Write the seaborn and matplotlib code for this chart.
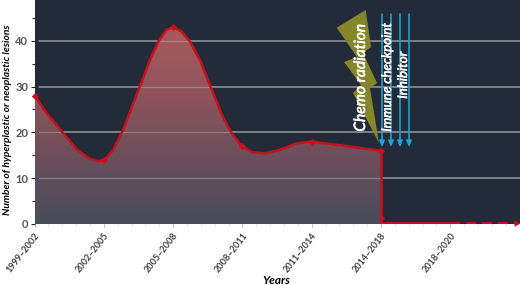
import numpy as np
import pandas as pd
import matplotlib
matplotlib.use("Agg")
import matplotlib.pyplot as plt
import matplotlib.patheffects as pe
from matplotlib.patches import Polygon
from matplotlib.colors import LinearSegmentedColormap
import seaborn as sns

period_labels = ["1999–2002", "2002–2005", "2005–2008", "2008–2011",
                 "2011–2014", "2014–2018", "2018–2020", ""]
curve_pos = [0, .176, .416, .609, .776, .92, 1.017, 1.137, 1.281, 1.403, 1.522, 1.667, 1.786, 1.908,
             2.003, 2.124, 2.244, 2.388, 2.532, 2.724, 2.846, 2.99, 3.134, 3.326, 3.542, 3.783, 4.0,
             4.31, 4.65, 5]
curve_val = [28, 24.2, 19.8, 16.3, 14.4, 13.7, 14, 16.2, 20.6, 25.4, 30.1, 35.8, 39.8, 42.4,
             43, 42, 39.8, 35.8, 30.3, 23.2, 19.8, 17, 15.7, 15.4, 16.2, 17.6, 18,
             17.4, 16.7, 16]
marker_pos = [0, 1, 2, 3, 4, 5]
marker_val = [28, 14, 43, 17, 18, 16]
drop_pos = [5, 5]
drop_val = [16, 0.3]
drop_marker_val = [1.4]
zero_pos = [5, 6]
zero_val = [0.3, 0.3]
future_pos = [6, 6.97]
future_val = [0.3, 0.3]

W, H = 520, 285
sns.set_theme(style="white")
plt.rcParams["font.family"] = ["Lato", "DejaVu Sans"]
fig = plt.figure(figsize=(W / 100, H / 100), dpi=100, facecolor="white")
ax = fig.add_axes([34.5 / W, 1 - 224 / H, (519.5 - 34.5) / W, 224 / H])
BG = "#232a38"
RED = "#c8101c"
ax.set_facecolor(BG)

for v in (10, 20, 30, 40):
    ax.plot([0.06, 7], [v, v], color="#96989f", lw=1.1, zorder=1)

# gradient fill under the curve
cmap = LinearSegmentedColormap.from_list("g", ["#474c5c", "#6b4f5a", "#8f545c", "#a85a5e"])
grad = np.linspace(1, 0, 256).reshape(-1, 1)
im = ax.imshow(grad, extent=[0, 5, 0, 43], aspect="auto", cmap=cmap, zorder=2)
ax.set_xlim(0, 7)
ax.set_ylim(0, 48.9)

frame = pd.DataFrame({"pos": curve_pos, "val": curve_val})
xs, ys = np.array(curve_pos, float), np.array(curve_val, float)
verts = [(0, 0)] + list(zip(xs, ys)) + [(5, 0), (0, 0)]
clip = Polygon(verts, closed=True, transform=ax.transData, fc="none", ec="none")
ax.add_patch(clip)
im.set_clip_path(clip)
for v in (10, 20, 30, 40):
    g, = ax.plot([0.06, 5], [v, v], color="#b5aeb4", lw=0.9, alpha=.5, zorder=2.5)
    g.set_clip_path(clip)

sns.lineplot(data=frame, x="pos", y="val", ax=ax, color=RED, lw=1.8, zorder=4, sort=False, estimator=None)
sns.scatterplot(x=marker_pos, y=marker_val, ax=ax, marker="D", s=12, color=RED, edgecolor=RED, zorder=5, clip_on=False)
sns.lineplot(x=drop_pos, y=drop_val, ax=ax, color=RED, lw=1.9, zorder=4, estimator=None, sort=False)
sns.scatterplot(x=drop_pos[:1], y=drop_marker_val, ax=ax, marker="D", s=12, color=RED, edgecolor=RED, zorder=5)
sns.lineplot(x=zero_pos, y=zero_val, ax=ax, color=RED, lw=2.0, zorder=4, estimator=None, sort=False)
sns.lineplot(x=future_pos, y=future_val, ax=ax, color=RED, lw=2.0, ls=(0, (3.5, 2.2)), zorder=4, estimator=None, sort=False)
sns.scatterplot(x=future_pos[1:], y=future_val[1:], ax=ax, marker=">", s=16, color=RED, edgecolor=RED, zorder=5, clip_on=False)

for s in ("top", "right", "bottom", "left"):
    ax.spines[s].set_visible(False)
ax.set_yticks([0, 10, 20, 30, 40])
ax.set_yticks([5, 15, 25, 35, 45], minor=True)
ax.set_xticks(range(8))
ax.set_xticklabels(period_labels, rotation=52, ha="right", rotation_mode="anchor",
                   fontsize=6.6, fontweight="bold", color="#404040")
ax.set_xticks(np.arange(0, 7.01, 0.2), minor=True)
ax.tick_params(axis="y", which="major", length=3, width=.8, color="#222222", labelsize=8, labelcolor="#555555", pad=1.5, left=True)
ax.tick_params(axis="y", which="minor", length=2, width=.8, color="#222222", left=True)
ax.tick_params(axis="x", which="major", length=2.2, width=.6, color="#aaaaaa", pad=3, bottom=True)
ax.tick_params(axis="x", which="minor", length=1.2, width=.5, color="#cccccc", bottom=True)
for t in ax.get_yticklabels():
    t.set_fontweight("bold")
ax.set_xlabel("")
ax.set_ylabel("")

fig.text(8 / W, 1 - 120 / H, "Number of hyperplastic or neoplastic lesions", rotation=90, ha="center", va="center",
         fontsize=7.4, fontweight="bold", fontstyle="italic", color="black")
fig.text(276 / W, 1 - 281 / H, "Years", ha="center", va="center",
         fontsize=8.5, fontweight="bold", fontstyle="italic", color="black")

# overlay annotations, located in figure pixels
def px(x, y):
    return (x / W, 1 - y / H)

bolt = [(365.7, 10), (371, 47), (363, 53), (377, 83), (370, 88), (379, 143), (353, 93), (361, 85),
        (344, 62), (357, 57), (336.7, 27.7)]
fig.add_artist(Polygon([px(*p) for p in bolt], closed=True, transform=fig.transFigure,
                       fc="#85862a", ec="none", zorder=6))
for xp in (382, 391, 400, 409):
    ax.annotate("", xy=px(xp, 147), xytext=px(xp, 14), xycoords="figure fraction", textcoords="figure fraction",
                arrowprops=dict(arrowstyle="-|>,head_width=.13,head_length=.3", color="#1ea6dd", lw=1.1, shrinkA=0, shrinkB=0),
                zorder=7)
thick = [pe.withStroke(linewidth=0.4, foreground="white")]
fig.text(*px(361, 78), "Chemo radiation", rotation=90, ha="center", va="center", color="white",
         fontsize=11.2, fontstyle="italic", zorder=8, path_effects=thick)
fig.text(*px(387, 77), "Immune checkpoint", rotation=90, ha="center", va="center", color="white",
         fontsize=9.6, fontstyle="italic", zorder=8, path_effects=thick)
fig.text(*px(403, 75), "Inhibitor", rotation=90, ha="center", va="center", color="white",
         fontsize=9.6, fontstyle="italic", zorder=8, path_effects=thick)

fig.savefig("out.png", dpi=100, facecolor="white")
